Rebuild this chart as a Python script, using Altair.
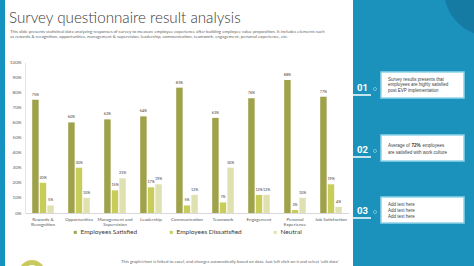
import altair as alt
import pandas as pd

categories = ["Rewards &|Recognition", "Opportunities", "Management and|Supervision", "Leadership",
              "Communication", "Teamwork", "Engagement", "Personal|Experience", "Job Satisfaction"]
series = ["Employees Satisfied", "Employees Dissatisfied", "Neutral"]
satisfied = [75, 60, 62, 64, 83, 63, 76, 88, 77]
dissatisfied = [20, 30, 15, 17, 5, 7, 12, 2, 19]
neutral = [5, 10, 23, 19, 12, 30, 12, 10, 4]
y_ticks = [0, 10, 20, 30, 40, 50, 60, 70, 80, 90, 100]

title_text = "Survey questionnaire result analysis"
subtitle_lines = [
    "This slide presents statistical data analyzing responses of survey to measure employee experience after building employee value proposition. It includes elements such",
    "as rewards & recognition, opportunities, management & supervision, leadership, communication, teamwork, engagement, personal experience, etc.",
]
note_text = "This graph/chart is linked to excel, and changes automatically based on data. Just left click on it and select \u2018edit data\u2019"
box1_lines = ["Survey results presents that", "employees are highly satisfied", "post EVP implementation"]
box2_parts = ["Average of", "72%", "employees", "are satisfied with work culture"]
box3_lines = ["Add text here", "Add text here", "Add text here"]
numbers = ["01", "02", "03"]

rows = []
for i, c in enumerate(categories):
    for s, vals in zip(series, [satisfied, dissatisfied, neutral]):
        rows.append({"category": c, "series": s, "value": vals[i] / 100.0,
                     "label": f"{vals[i]}%"})
df = pd.DataFrame(rows)

FONT = "Lato"
BOXFONT = "Liberation Sans"
W, H = 324, 151
L, T = 25, 62
colors = ["#9fa24a", "#c8cc5a", "#dfe2b0"]
PANEL = "#1b92bb"

one = alt.Data(values=[{"k": 1}])

def px(x):
    return alt.value(x - L)

def py(y):
    return alt.value(y - T)

def rect(x1, y1, x2, y2, **kw):
    return alt.Chart(one).mark_rect(**kw).encode(x=px(x1), x2=px(x2), y=py(y1), y2=py(y2))

def text(x, y, t, **kw):
    base = dict(font=FONT, align="left", baseline="middle", color="#404040")
    base.update(kw)
    return alt.Chart(one).mark_text(text=t, **base).encode(x=px(x), y=py(y))

xaxis = alt.Axis(labelExpr="split(datum.label, '|')", labelFontSize=4.6,
                 labelColor="#595959", labelFont=FONT, labelAngle=0, ticks=False,
                 domainColor="#d9d9d9", labelPadding=3, labelLineHeight=5)
yaxis = alt.Axis(values=[v / 100 for v in y_ticks], tickCount=11, format=".0%",
                 grid=False, ticks=False, labelFontSize=4.6, labelColor="#595959",
                 labelFont=FONT, domainColor="#e6e6e6", labelPadding=4,
                 labelOverlap=False, labelBound=False)
xscale = alt.Scale(paddingInner=0, paddingOuter=0)
yscale = alt.Scale(domain=[0, 1], nice=False)
xenc = alt.X("category:N", sort=categories, title=None, scale=xscale, axis=xaxis)
yenc = alt.Y("value:Q", title=None, scale=yscale, axis=yaxis)
xoff = alt.XOffset("series:N", sort=series,
                   scale=alt.Scale(paddingInner=0.15, paddingOuter=0.95))

bars = alt.Chart(df).mark_bar().encode(
    x=xenc, y=yenc, xOffset=xoff,
    color=alt.Color("series:N", sort=series,
                    scale=alt.Scale(domain=series, range=colors),
                    legend=alt.Legend(title=None, orient="none", legendX=47, legendY=167,
                                      direction="horizontal", columns=3, columnPadding=30,
                                      symbolType="square", symbolSize=9, symbolStrokeWidth=0,
                                      labelFontSize=6.5, labelFont=FONT, labelColor="#404040",
                                      labelOffset=2)),
)
labels = alt.Chart(df).mark_text(fontSize=3.7, font=FONT, color="#404040", dy=-3,
                                 baseline="bottom").encode(
    x=xenc, y=yenc, xOffset=xoff, text="label:N")

deco = [
    rect(0, 0, 5, 266, color="#1592bf"),
    rect(353, 0, 474, 266, color=PANEL),
    alt.Chart(one).mark_arc(radius=46, theta=0, theta2=6.2832, color="#167ba3").encode(
        x=px(490), y=py(-10)),
    alt.Chart(one).mark_arc(radius=13, radius2=8, theta=0, theta2=6.2832, color="#c8c95f").encode(
        x=px(32), y=py(273)),
    text(9, 18, title_text, fontSize=15.2, fontWeight=300, color="#3a3a3a"),
    text(10, 32, subtitle_lines[0], fontSize=4.35, color="#666666"),
    text(10, 37, subtitle_lines[1], fontSize=4.35, color="#666666"),
    text(121, 262, note_text, fontSize=4.3, color="#666666"),
]
for (ny, ly, by) in [(88, 95, 72), (150, 157, 135), (211, 218, 197)]:
    deco.append(rect(381, by, 464, by + 26, color="#ffffff", stroke="#8fd3ea", strokeWidth=1.5))
    deco.append(alt.Chart(one).mark_rule(color="#ffffff", strokeWidth=1.5).encode(
        x=px(353), x2=px(371), y=py(ly)))
    deco.append(alt.Chart(one).mark_point(shape="circle", size=10, color="#9ad8ee",
                                          strokeWidth=0.9).encode(x=px(375), y=py(ny + 1)))
for n, ny in zip(numbers, [88, 150, 211]):
    deco.append(text(357, ny, n, fontSize=9.5, fontWeight="bold", color="#ffffff",
                     font="Roboto"))
BF = 4.5
for i, t in enumerate(box1_lines):
    deco.append(text(388, 80 + 5.4 * i, t, fontSize=BF, font=BOXFONT))
deco.append(text(388, 146, box2_parts[0], fontSize=BF, font=BOXFONT))
deco.append(text(411.5, 146, box2_parts[1], fontSize=4.6, fontWeight="bold", font=BOXFONT))
deco.append(text(422.5, 146, box2_parts[2], fontSize=BF, font=BOXFONT))
deco.append(text(388, 152.5, box2_parts[3], fontSize=BF, font=BOXFONT))
for i, t in enumerate(box3_lines):
    deco.append(text(388, 205 + 5.8 * i, t, fontSize=BF, font=BOXFONT))

chart = alt.layer(*deco, bars, labels).properties(
    width=W, height=H,
    autosize=alt.AutoSizeParams(type="none"),
    padding={"left": L, "top": T, "right": 474 - L - W, "bottom": 266 - T - H},
).configure(background="#ffffff").configure_view(stroke=None)

chart.save("out.html", embed_options={"renderer": "svg", "actions": False})
